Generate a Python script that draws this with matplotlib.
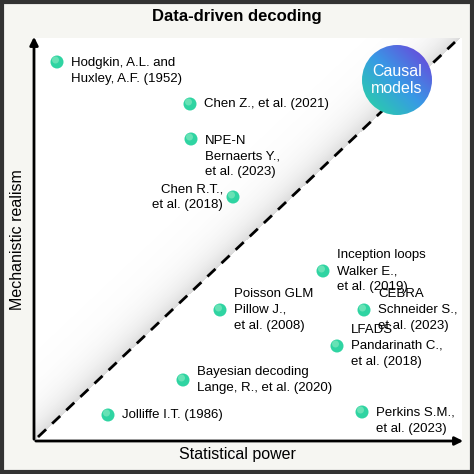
import numpy as np
import matplotlib.pyplot as plt
from matplotlib.patches import Circle, Rectangle

labels = ["Hodgkin, A.L. and\nHuxley, A.F. (1952)", "Chen Z., et al. (2021)",
          "NPE-N\nBernaerts Y.,\net al. (2023)", "Chen R.T.,\net al. (2018)",
          "Inception loops\nWalker E.,\net al. (2019)", "CEBRA\nSchneider S.,\net al. (2023)",
          "Poisson GLM\nPillow J.,\net al. (2008)", "LFADS\nPandarinath C.,\net al. (2018)",
          "Bayesian decoding\nLange, R., et al. (2020)", "Jolliffe I.T. (1986)",
          "Perkins S.M.,\net al. (2023)"]
px = [57, 190, 191, 233, 323, 364, 220, 337, 183, 108, 362]
py = [62, 104, 139, 197, 271, 310, 310, 346, 380, 415, 412]
side = ["r", "r", "r", "l", "r", "r", "r", "r", "r", "r", "r"]
anchor = [0, 0, 0, 0.5, 1, 1, 1, 1, 0.5, 0, 0]

fig = plt.figure(figsize=(4.74, 4.74), dpi=100)
fig.patch.set_facecolor("#f6f6f2")
ax = fig.add_axes([0, 0, 1, 1])
ax.set_xlim(0, 474); ax.set_ylim(474, 0); ax.axis("off")
FONT = "Liberation Sans"

ax.add_patch(Rectangle((2, 2), 470, 470, fill=False, ec="#333333", lw=3))
ax.add_patch(Rectangle((34, 38), 428, 403, fc="white", ec="none", zorder=0))
x0, y0, x1, y1 = 38, 437, 455, 42
X, Y = np.meshgrid(np.arange(34, 462), np.arange(38, 441))
d = ((x1 - x0) * (Y - y0) - (y1 - y0) * (X - x0)) / np.hypot(x1 - x0, y1 - y0)
a = np.where(d < 0, np.exp(d / 16.0) * 0.22, 0)
img = np.zeros(X.shape + (4,)); img[..., :3] = 0.35; img[..., 3] = a
ax.imshow(img, extent=(34, 462, 441, 38), zorder=1, aspect="auto")
ax.plot([x0, x1], [y0, y1], ls=(0, (4, 3)), color="black", lw=2, zorder=2)

ax.annotate("", xy=(34, 34), xytext=(34, 442), arrowprops=dict(arrowstyle="-|>", lw=2, color="black", mutation_scale=12), zorder=3)
ax.annotate("", xy=(466, 441), xytext=(33, 441), arrowprops=dict(arrowstyle="-|>", lw=2, color="black", mutation_scale=12), zorder=3)

ax.text(237, 16, "Data-driven decoding", ha="center", va="center", fontsize=12, fontweight="bold", family=FONT)
ax.text(237, 455, "Statistical power", ha="center", va="center", fontsize=11.5, family=FONT)
ax.text(18, 240, "Mechanistic realism", ha="center", va="center", fontsize=11.5, rotation=90, family=FONT)

h = 17.5
for x, y, l, s, k in zip(px, py, labels, side, anchor):
    ax.add_patch(Circle((x, y), 6.5, fc="#2fd4a2", ec="none", zorder=4))
    ax.add_patch(Circle((x - 1.5, y - 2), 3.5, fc="#9ff0c8", ec="none", alpha=0.5, zorder=4))
    n = l.count("\n")
    yc = y + (n / 2 - k * n if k != 0.5 else 0) * h if k != 0.5 else y
    if k == 0:
        yc = y + n / 2 * h
    elif k == 1:
        yc = y + (n / 2 - 1) * h
    if s == "r":
        ax.text(x + 14, yc, l, ha="left", va="center", fontsize=9.5, zorder=5, linespacing=1.42, family=FONT)
    else:
        ax.text(x - 10, yc, l, ha="right", va="center", fontsize=9.5, zorder=5, linespacing=1.42, family=FONT)

cx, cy, r = 397, 80, 35
gx, gy = np.meshgrid(np.linspace(0, 1, 100), np.linspace(0, 1, 100))
t = np.clip((gx + (1 - gy)) / 2, 0, 1)
c1 = np.array([0.15, 0.85, 0.62]); c2 = np.array([0.22, 0.6, 0.9]); c3 = np.array([0.45, 0.22, 0.85])
g = np.where(t[..., None] < 0.5, c1 + (c2 - c1) * (t[..., None] / 0.5), c2 + (c3 - c2) * ((t[..., None] - 0.5) / 0.5))
im = ax.imshow(g, extent=(cx - r, cx + r, cy + r, cy - r), zorder=6, aspect="auto")
im.set_clip_path(Circle((cx, cy), r, transform=ax.transData))
ax.text(cx, cy, "Causal\nmodels", ha="center", va="center", color="white", fontsize=11.5, zorder=7, linespacing=1.2, family=FONT)

fig.savefig("out.png", dpi=100, facecolor=fig.get_facecolor())
